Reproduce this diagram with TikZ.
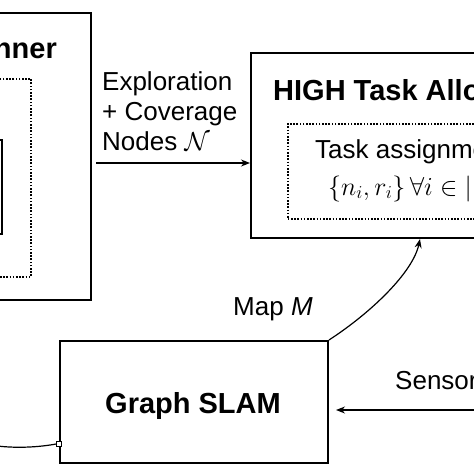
\RequirePackage{fix-cm}
\documentclass[tikz,border=0pt]{standalone}
\usepackage{fontspec}
\setmainfont{Liberation Sans}
\usetikzlibrary{arrows.meta}
\begin{document}
\begin{tikzpicture}[x=1pt,y=-1pt,
 box/.style={draw, line width=2pt, inner sep=0pt},
 dotbox/.style={draw, line width=1.6pt, dash pattern=on 1.6pt off 1.6pt, inner sep=0pt},
 conn/.style={line width=1.2pt, -{Stealth[length=9pt,width=7pt]}},
 lbl/.style={inner sep=0pt, font=\fontsize{26}{30}\selectfont},
 ttl/.style={inner sep=0pt, font=\fontsize{29}{34}\selectfont\bfseries}]
\useasboundingbox (0,0) rectangle (474,474);
\clip (0,0) rectangle (474,474);
% left planner box
\node[box, anchor=north east, minimum width=120pt, minimum height=287pt] (planner) at (92,12) {};
\node[dotbox, anchor=north east, minimum width=60pt, minimum height=198pt] (plannerin) at (32,78) {};
\node[draw, line width=1.6pt, inner sep=0pt, anchor=north east, minimum width=40pt, minimum height=94pt] (plannerbox) at (3,139) {};
\node[ttl, anchor=base east] (plannertxt) at (57,58) {nner};
% right task allocation box
\node[box, anchor=north west, minimum width=260pt, minimum height=185pt] (hta) at (250,52) {};
\node[dotbox, anchor=north west, minimum width=220pt, minimum height=95pt] (htain) at (287,123) {};
\node[ttl, anchor=base west] (htatxt) at (273,100) {HIGH Task Allo};
\node[lbl, anchor=base west] (assign) at (315,158) {Task assignme};
\node[lbl, anchor=base west] (assignmath) at (328,195) {$\{n_i, r_i\}\,\forall i \in |$};
% graph slam
\node[box, anchor=north west, minimum width=268pt, minimum height=122pt] (slam) at (59,340) {};
\node[ttl, anchor=base] (slamtxt) at (193,413) {Graph SLAM};
% connectors
\draw[conn] (planner.east |- 0,163) ++(4,0) -- (hta.west |- 0,163);
\node[lbl, anchor=base west, align=left] (exptxt) at (102,150) {Exploration\\+ Coverage\\Nodes $\mathcal{N}$};
\draw[conn] (slam.north east) .. controls (372,312) and (413,272) .. ([xshift=170pt]hta.south west);
\node[lbl, anchor=base west] (maptxt) at (233,315) {Map \textit{M}};
\coordinate (sensorsrc) at (490,410);
\draw[conn, shorten >=7pt] (sensorsrc) -- (slam.east |- sensorsrc);
\node[lbl, anchor=base west] (sensortxt) at (395,389) {Sensor};
\coordinate (bl) at (-10,445);
\node[draw, fill=white, line width=0.8pt, minimum size=5pt, inner sep=0pt] (sq) at (slam.west |- 0,444) {};
\draw[line width=1.2pt] (bl) .. controls (15,449) and (40,447) .. (sq.west);
\node[draw, fill=white, line width=0.8pt, minimum size=5pt, inner sep=0pt] at (sq) {};
\end{tikzpicture}
\end{document}
